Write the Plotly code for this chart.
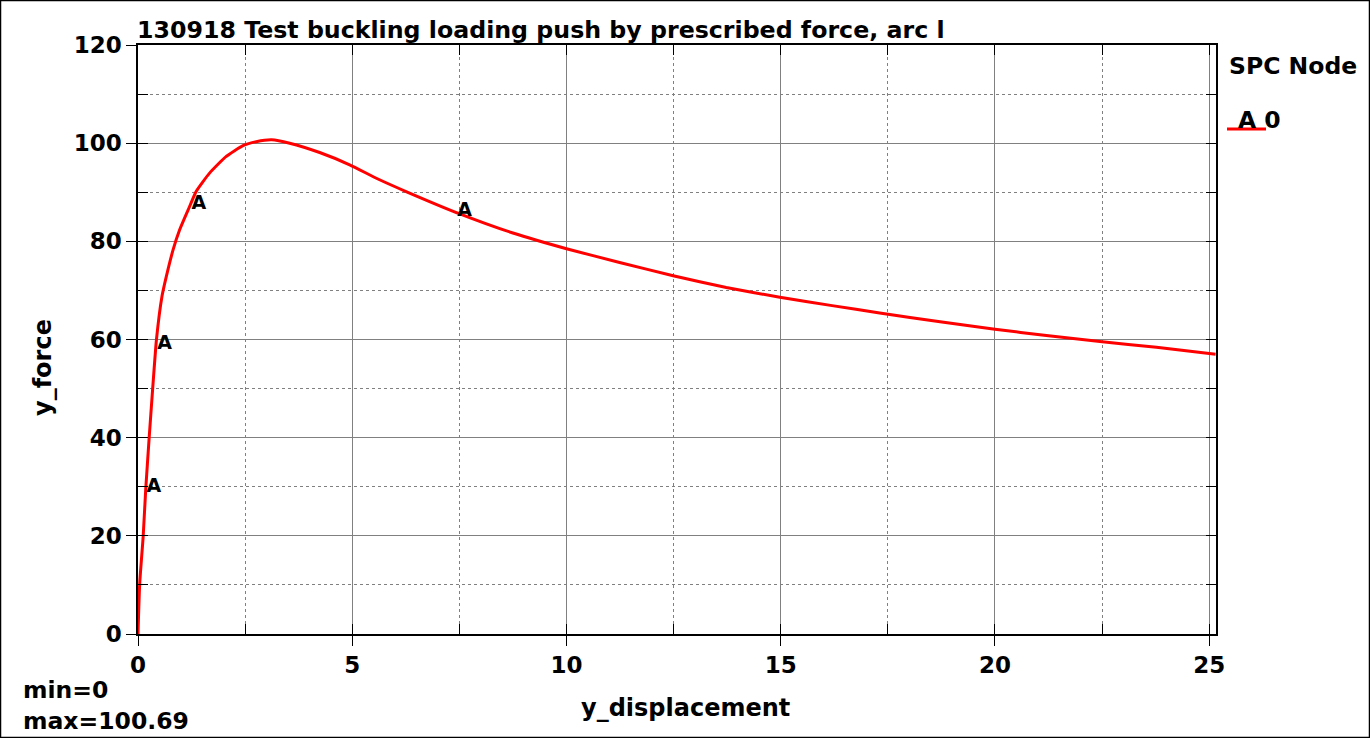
import plotly.graph_objects as go

# Data
y_displacement = [0, 0.04, 0.12, 0.18, 0.26, 0.34, 0.43, 0.56, 0.66, 0.82, 0.97,
                  1.17, 1.36, 1.67, 2.06, 2.45, 2.76, 3.12, 3.54, 4.24, 4.94,
                  5.6, 6.27, 7.51, 8.75, 10.0, 11.24, 12.49, 13.73, 14.98,
                  16.2, 17.31, 18.72, 20.0, 21.2, 22.45, 23.77, 25.15]
y_force = [0, 10.3, 19.8, 29.4, 39.9, 49.7, 59.9, 68.8, 72.8, 78.3, 82.3,
           86.4, 90.2, 93.9, 97.3, 99.5, 100.3, 100.69, 100.0, 98.1, 95.6,
           92.7, 90.1, 85.6, 81.7, 78.5, 75.7, 73.0, 70.6, 68.6,
           66.9, 65.4, 63.6, 62.1, 60.8, 59.6, 58.4, 57.0]

# Curve label ("A") positions
label_x = [0.2, 0.45, 1.25, 7.45]
label_y = [30.0, 59.0, 87.6, 86.2]

x_ticks = [0, 5, 10, 15, 20, 25]
y_ticks = [0, 20, 40, 60, 80, 100, 120]

W, H = 1370, 738
L, R, T, B = 138, 154, 45, 104
PW, PH = W - L - R, H - T - B


def px(xp):
    return (xp - L) / PW


def py(yp):
    return (H - B - yp) / PH


FONT = "DejaVu Sans"
GRID = "#808080"
TXT = 23.5

fig = go.Figure()

fig.add_trace(go.Scatter(
    x=y_displacement, y=y_force, mode="lines",
    line=dict(color="#ff0000", width=3, shape="spline", smoothing=0.5),
    name="A 0", showlegend=False,
))

fig.add_trace(go.Scatter(
    x=label_x, y=label_y, mode="text", text=["A"] * len(label_x),
    textposition="middle right",
    textfont=dict(family=FONT, size=19, color="black", weight="bold"),
    showlegend=False, hoverinfo="skip",
))

# invisible trace to drive the overlay axes (inside ticks)
fig.add_trace(go.Scatter(
    x=[0], y=[0], xaxis="x2", yaxis="y2", mode="markers",
    marker=dict(opacity=0), showlegend=False, hoverinfo="skip",
))

xr = [0, 25.16]
yr = [0, 120]

fig.update_layout(
    width=W, height=H,
    margin=dict(l=L, r=R, t=T, b=B),
    paper_bgcolor="white", plot_bgcolor="white",
    font=dict(family=FONT, color="black"),
    title=dict(
        text="<b>130918 Test buckling loading push by prescribed force, arc l</b>",
        x=137 / W, xanchor="left", y=1 - 30 / H, yanchor="middle",
        font=dict(family=FONT, size=23.7, color="black"),
    ),
    xaxis=dict(
        range=xr, tickvals=x_ticks, ticks="outside", ticklen=10,
        tickcolor="black", showline=True, linecolor="black", linewidth=1.5,
        mirror=True, showgrid=True, gridcolor=GRID, gridwidth=1,
        zeroline=False,
        tickfont=dict(family=FONT, size=23, color="black", weight="bold"),
        minor=dict(dtick=2.5, showgrid=True, gridcolor=GRID, griddash="dot",
                   gridwidth=1),
    ),
    yaxis=dict(
        range=yr, tickvals=y_ticks, ticks="outside", ticklen=10,
        tickcolor="black", showline=True, linecolor="black", linewidth=1.5,
        mirror=True, showgrid=True, gridcolor=GRID, gridwidth=1,
        zeroline=False,
        tickfont=dict(family=FONT, size=23, color="black", weight="bold"),
        minor=dict(dtick=10, showgrid=True, gridcolor=GRID, griddash="dot",
                   gridwidth=1),
    ),
    xaxis2=dict(
        overlaying="x", range=xr, tickvals=x_ticks, ticks="inside", ticklen=10,
        tickcolor="black", mirror="ticks", showticklabels=False,
        showgrid=False, zeroline=False, showline=False,
        minor=dict(dtick=2.5, ticks="inside", ticklen=10, tickcolor="black"),
    ),
    yaxis2=dict(
        overlaying="y", range=yr, tickvals=y_ticks, ticks="inside", ticklen=10,
        tickcolor="black", mirror="ticks", showticklabels=False,
        showgrid=False, zeroline=False, showline=False,
        minor=dict(dtick=10, ticks="inside", ticklen=10, tickcolor="black"),
    ),
    showlegend=False,
)

# axis titles
fig.add_annotation(
    text="<b>y_displacement</b>", xref="paper", yref="paper",
    x=px(685), y=py(708), xanchor="center", yanchor="middle",
    showarrow=False, font=dict(family=FONT, size=24, color="black"),
)
fig.add_annotation(
    text="<b>y_force</b>", xref="paper", yref="paper",
    x=px(43), y=py(368), xanchor="center", yanchor="middle", textangle=-90,
    showarrow=False, font=dict(family=FONT, size=24, color="black"),
)

# legend block
fig.add_annotation(
    text="<b>SPC Node</b>", xref="paper", yref="paper",
    x=px(1227), y=py(66), xanchor="left", yanchor="middle",
    showarrow=False, font=dict(family=FONT, size=TXT, color="black"),
)
fig.add_annotation(
    text="<b>A 0</b>", xref="paper", yref="paper",
    x=px(1236), y=py(120), xanchor="left", yanchor="middle",
    showarrow=False, font=dict(family=FONT, size=TXT, color="black"),
)
fig.add_shape(
    type="line", xref="paper", yref="paper",
    x0=px(1227), x1=px(1266), y0=py(129), y1=py(129),
    line=dict(color="#ff0000", width=3),
)

# min / max note
fig.add_annotation(
    text=f"<b>min={min(y_force):g}<br>max={max(y_force):.2f}</b>",
    xref="paper", yref="paper", x=px(21), y=py(705),
    xanchor="left", yanchor="middle", align="left",
    showarrow=False, font=dict(family=FONT, size=TXT, color="black"),
)

# page frame
fig.add_shape(
    type="rect", xref="paper", yref="paper",
    x0=px(0.5), x1=px(W - 0.5), y0=py(H - 0.5), y1=py(0.5),
    line=dict(color="black", width=1.5), layer="above",
)

fig.write_html("out.html", config={"displayModeBar": False},
               post_script="document.body.style.margin='0';")
